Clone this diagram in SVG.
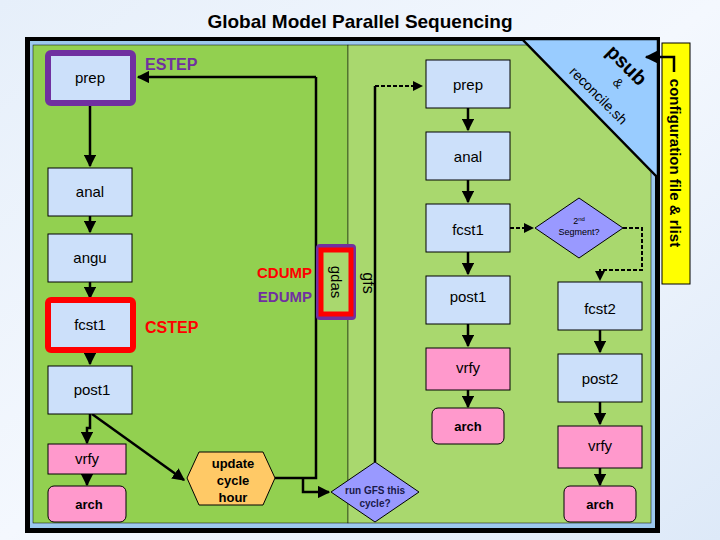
<svg xmlns="http://www.w3.org/2000/svg" width="720" height="540" viewBox="0 0 720 540">
<defs>
<marker id="ah" viewBox="0 0 10 10" refX="9" refY="5" markerWidth="5" markerHeight="5" orient="auto"><path d="M0,0 L10,5 L0,10 z" fill="#000"/></marker>
<linearGradient id="bg" x1="0" y1="0" x2="1" y2="1"><stop offset="0" stop-color="#e6effa"/><stop offset="0.5" stop-color="#f4f8fe"/><stop offset="1" stop-color="#dde9f8"/></linearGradient>
</defs>
<style>
text{font-family:"Liberation Sans",Arial,sans-serif}
.n{fill:#cce0fa;stroke:#000;stroke-width:1}
.p{fill:#ff99cc;stroke:#000;stroke-width:1}
.t{font-size:15px;text-anchor:middle;fill:#000}
.tb{font-size:13px;font-weight:bold;text-anchor:middle;fill:#000}
.ts{font-size:10px;font-weight:bold;text-anchor:middle;fill:#1a1a4a}
.c{fill:none;stroke:#000;stroke-width:2.5;marker-end:url(#ah)}
.cl{fill:none;stroke:#000;stroke-width:2.5}
.d{fill:none;stroke:#000;stroke-width:2;stroke-dasharray:4,2}
</style>
<rect width="720" height="540" fill="url(#bg)"/>
<text x="360" y="28" font-size="19" font-weight="bold" text-anchor="middle">Global Model Parallel Sequencing</text>
<g id="frame">
<rect x="25" y="37" width="635" height="496" fill="#000"/>
<rect x="30" y="41" width="625" height="487" fill="#9cc8ee"/>
<rect x="33" y="45" width="315" height="478" fill="#92d050" stroke="#000" stroke-width="0.5"/>
<rect x="348" y="45" width="303" height="478" fill="#a9d86e" stroke="#000" stroke-width="0.5"/>
<path d="M522,39 L658,39 L658,178 Z" fill="#99ccff" stroke="#000" stroke-width="2.5"/>
<text transform="translate(622,70) rotate(45)" font-size="20" font-weight="bold" text-anchor="middle">psub</text>
<text transform="translate(615,86) rotate(45)" font-size="13" text-anchor="middle">&amp;</text>
<text transform="translate(595,99) rotate(45)" font-size="14" text-anchor="middle">reconcile.sh</text>
</g>
<g id="config">
<rect x="662" y="43" width="28" height="241" fill="#ffff00" stroke="#000" stroke-width="1"/>
<text transform="translate(670,163) rotate(90)" font-size="15" font-weight="bold" text-anchor="middle">configuration file &amp; rlist</text>
</g>
<g id="labels">
<text x="145" y="70" font-size="16" font-weight="bold" fill="#7030a0">ESTEP</text>
<text x="145" y="333" font-size="16" font-weight="bold" fill="#ff0000">CSTEP</text>
<text x="312" y="278" font-size="15" font-weight="bold" fill="#ff0000" text-anchor="end">CDUMP</text>
<text x="312" y="302" font-size="15" font-weight="bold" fill="#7030a0" text-anchor="end">EDUMP</text>
<text transform="translate(363,283) rotate(90)" font-size="16" text-anchor="middle">gfs</text>
</g>
<g id="connectors">
<path class="c" d="M90,104 V166"/>
<path class="c" d="M90,216 V232"/>
<path class="c" d="M90,282 V298"/>
<path class="c" d="M90,350 V364"/>
<path class="c" d="M90,414 V428 H87 V443"/>
<path class="c" d="M87,474 V485"/>
<path class="c" d="M92,414 L184,480"/>
<path class="cl" d="M275,478 H316 V77"/>
<path class="c" d="M316,77 H138"/>
<path class="c" d="M303,478 V492 H329"/>
<path class="cl" d="M375,462 V86"/>
<path class="d" d="M375,86 H422" marker-end="url(#ah)"/>
<path class="c" d="M468,108 V130"/>
<path class="c" d="M468,180 V202"/>
<path class="c" d="M468,252 V274"/>
<path class="c" d="M468,324 V346"/>
<path class="c" d="M468,390 V407"/>
<path class="d" d="M510,228 H533" marker-end="url(#ah)"/>
<path class="d" d="M623,228 H642 V270 H600 V280" marker-end="url(#ah)"/>
<path class="c" d="M600,330 V352"/>
<path class="c" d="M600,402 V424"/>
<path class="c" d="M600,468 V485"/>
<path class="c" d="M674,72 V57 H646"/>
</g>
<g id="gdas">
<rect x="316" y="244" width="40" height="76" rx="4" fill="#7030a0"/>
<rect x="321" y="250" width="30" height="64" fill="#a9d86e" stroke="#ff0000" stroke-width="5"/>
<text transform="translate(331,282) rotate(90)" font-size="15" text-anchor="middle">gdas</text>
</g>
<g id="prepL"><rect x="48" y="53" width="85" height="50" rx="3" fill="#cce0fa" stroke="#7030a0" stroke-width="6"/><text class="t" x="90" y="83">prep</text></g>
<g id="analL"><rect class="n" x="48" y="168" width="84" height="48"/><text class="t" x="90" y="197">anal</text></g>
<g id="anguL"><rect class="n" x="48" y="234" width="84" height="48"/><text class="t" x="90" y="263">angu</text></g>
<g id="fcst1L"><rect x="48" y="300" width="85" height="50" rx="3" fill="#cce0fa" stroke="#ff0000" stroke-width="6"/><text class="t" x="90" y="330">fcst1</text></g>
<g id="post1L"><rect class="n" x="48" y="366" width="84" height="48"/><text class="t" x="92" y="395">post1</text></g>
<g id="vrfyL"><rect class="p" x="48" y="444" width="78" height="30"/><text class="t" x="87" y="464">vrfy</text></g>
<g id="archL"><rect class="p" x="48" y="486" width="78" height="36" rx="6"/><text class="tb" x="89" y="509">arch</text></g>
<g id="update"><path d="M199,452 H263 L275,478 L263,505 H199 L187,478 Z" fill="#ffc966" stroke="#000" stroke-width="1"/><text class="tb" x="233" y="468">update</text><text class="tb" x="233" y="485">cycle</text><text class="tb" x="233" y="502">hour</text></g>
<g id="rungfs"><path d="M375,462 L419,492 L375,522 L331,492 Z" fill="#9999ff" stroke="#000" stroke-width="1"/><text class="ts" x="375" y="494">run GFS this</text><text class="ts" x="375" y="507">cycle?</text></g>
<g id="prepM"><rect class="n" x="426" y="60" width="84" height="48"/><text class="t" x="468" y="90">prep</text></g>
<g id="analM"><rect class="n" x="426" y="132" width="84" height="48"/><text class="t" x="468" y="162">anal</text></g>
<g id="fcst1M"><rect class="n" x="426" y="204" width="84" height="48"/><text class="t" x="468" y="235">fcst1</text></g>
<g id="post1M"><rect class="n" x="426" y="276" width="84" height="48"/><text class="t" x="468" y="302">post1</text></g>
<g id="vrfyM"><rect class="p" x="426" y="348" width="84" height="42"/><text class="t" x="468" y="373">vrfy</text></g>
<g id="archM"><rect class="p" x="432" y="408" width="72" height="36" rx="6"/><text class="tb" x="468" y="431">arch</text></g>
<g id="seg2"><path d="M579,198 L623,228 L579,258 L535,228 Z" fill="#9999ff" stroke="#000" stroke-width="1"/><text x="579" y="224" font-size="9" text-anchor="middle">2<tspan font-size="6" dy="-3">nd</tspan></text><text x="579" y="235" font-size="9" text-anchor="middle">Segment?</text></g>
<g id="fcst2"><rect class="n" x="558" y="282" width="84" height="48"/><text class="t" x="600" y="314">fcst2</text></g>
<g id="post2"><rect class="n" x="558" y="354" width="84" height="48"/><text class="t" x="600" y="384">post2</text></g>
<g id="vrfyR"><rect class="p" x="558" y="426" width="84" height="42"/><text class="t" x="600" y="451">vrfy</text></g>
<g id="archR"><rect class="p" x="564" y="486" width="72" height="36" rx="6"/><text class="tb" x="600" y="509">arch</text></g>
</svg>
